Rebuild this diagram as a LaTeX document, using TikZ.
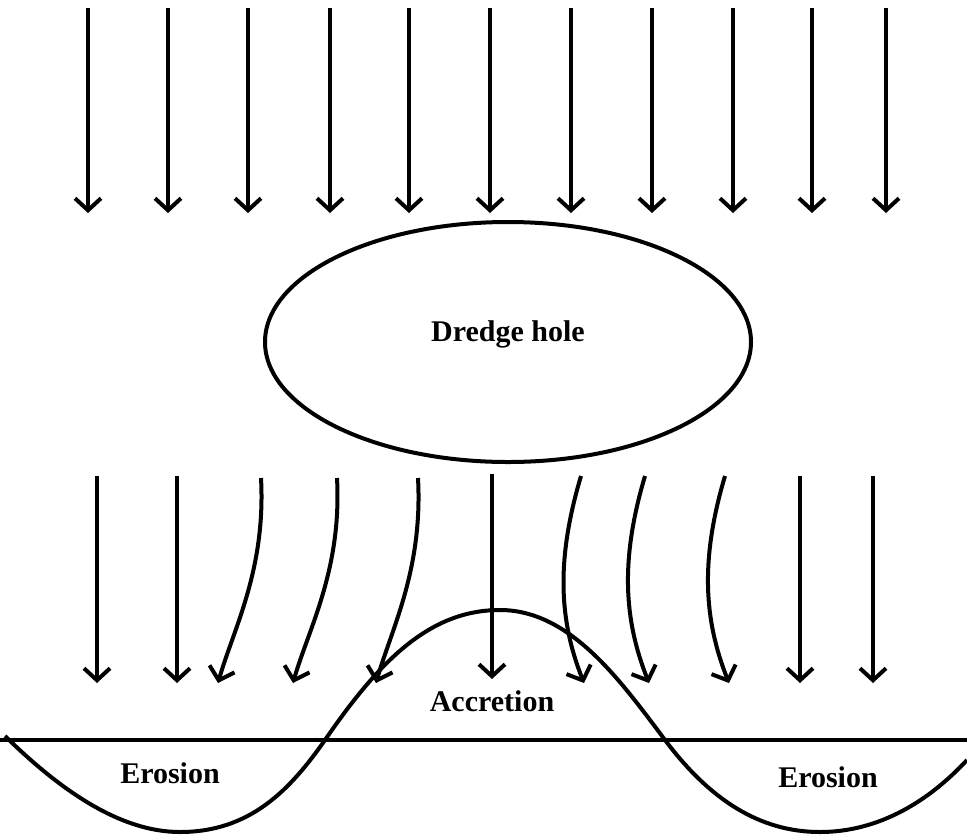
\documentclass[tikz,border=0pt]{standalone}
\usepackage{fontspec}
\setmainfont{Liberation Serif}
\usetikzlibrary{arrows.meta,shapes.geometric}
\begin{document}
\begin{tikzpicture}[x=1pt,y=-1pt,
  flow/.style={line width=4pt,-{Straight Barb[length=12pt,width=26pt,line width=4pt]}},
  lbl/.style={font=\bfseries\fontsize{30}{36}\selectfont}]
\useasboundingbox (0,0) rectangle (967,839);
\foreach \x in {88,168,248,330,409,490,571,652,733,812,886}
  \draw[flow] (\x,8) -- (\x,213);
\node[draw,line width=4pt,ellipse,inner sep=0pt,minimum width=486pt,minimum height=240pt] (hole) at (508,342) {};
\node[lbl] (dh) at (508,334) {Dredge hole};
\foreach \x in {97,177,800,873}
  \draw[flow] (\x,476) -- (\x,683);
\draw[flow] (492,474) -- (492,679);
\foreach \a/\b in {261/218,337/293,418/376}
  \draw[flow] (\a,478) .. controls (\a+5,570) and (\b+15,630) .. (\b,683);
\foreach \a/\b in {581/584,645/649,725/729}
  \draw[flow] (\a,476) .. controls (\a-25,560) and (\b-25,620) .. (\b,683);
\draw[line width=4pt] (0,740) -- (967,740);
\draw[line width=4pt] (5,736) .. controls (60,790) and (120,832) .. (180,832)
  .. controls (250,832) and (290,790) .. (325,740)
  .. controls (380,660) and (430,610) .. (500,610)
  .. controls (570,610) and (620,680) .. (665,740)
  .. controls (710,800) and (760,832) .. (820,832)
  .. controls (880,832) and (930,800) .. (967,760);
\node[lbl] (er1) at (170,773) {Erosion};
\node[lbl] (acc) at (492,701) {Accretion};
\node[lbl] (er2) at (828,777) {Erosion};
\end{tikzpicture}
\end{document}
